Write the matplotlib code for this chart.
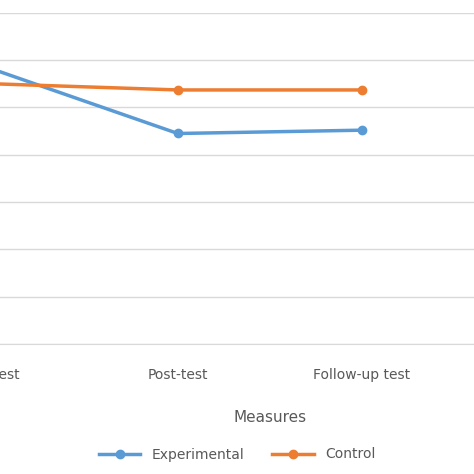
import matplotlib.pyplot as plt

measures = ["Pre-test", "Post-test", "Follow-up test"]
experimental = [5.8, 4.45, 4.52]
control = [5.5, 5.37, 5.37]

fig = plt.figure(figsize=(4.74, 4.74), dpi=100)
ax = fig.add_axes([-0.207, 0.274, 1.207, 0.699])
x = range(len(measures))
ax.plot(x, experimental, marker="o", color="#5B9BD5", lw=2.5, ms=6, label="Experimental")
ax.plot(x, control, marker="o", color="#ED7D31", lw=2.5, ms=6, label="Control")
ax.set_xlim(-0.5, 2.61)
ax.set_ylim(0, 7)
ax.set_yticks(range(8))
ax.set_yticklabels([])
ax.tick_params(left=False, bottom=False, labelsize=10, labelcolor="#595959", pad=14)
ax.set_xticks(list(x))
ax.set_xticklabels(measures)
ax.grid(axis="y", color="#d9d9d9", lw=1)
ax.set_axisbelow(True)
for s in ["top", "right", "left"]:
    ax.spines[s].set_visible(False)
ax.spines["bottom"].set_color("#d9d9d9")
ax.set_xlabel("Measures", fontsize=11, color="#595959")
ax.xaxis.set_label_coords(0.643, -0.2)
fig.legend(loc="lower center", bbox_to_anchor=(0.5, 0.0), ncol=2, frameon=False,
           fontsize=10, labelcolor="#595959", handlelength=3, columnspacing=2)
fig.savefig("out.png", dpi=100)
